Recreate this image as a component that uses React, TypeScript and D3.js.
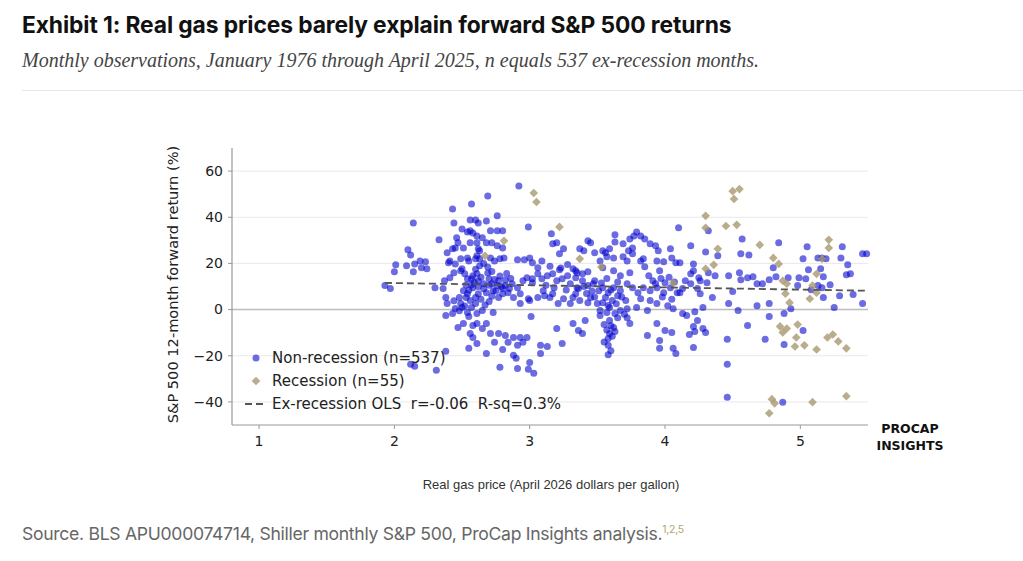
import React, { useEffect } from 'react';
import * as d3 from 'd3';

// [real gas price, 12-month forward return %]
const nonRecession: [number, number][] = [
  [1.93, 10.4], [1.97, 9.1], [2.01, 19.4], [2.0, 16.4], [2.09, 19.0], [2.1, 25.9], [2.12, 23.7], [2.14, 37.5],
  [2.15, 19.8], [2.14, 16.4], [2.19, 21.1], [2.2, 18.1], [2.23, 20.7], [2.24, 17.7], [2.12, -23.7], [2.15, -24.6],
  [2.31, -26.3], [2.3, 9.5], [2.33, 30.2],
  [2.36, 9.1], [2.38, 5.2], [2.39, 2.6], [2.38, -2.6], [2.39, 24.6], [2.43, 26.3], [2.43, 43.6], [2.44, 37.5],
  [2.46, 31.1], [2.47, 28.9], [2.45, 26.7], [2.41, 21.1], [2.45, 19.8], [2.4, 20.3], [2.37, 12.5], [2.41, 13.8],
  [2.44, 16.0], [2.49, 22.0], [2.5, 17.7], [2.49, 16.8], [2.5, 34.9], [2.51, 26.7], [2.54, 33.6], [2.52, 15.5],
  [2.54, 13.4], [2.51, 8.2], [2.54, 6.9], [2.56, 3.9], [2.49, 2.6], [2.5, 0.9], [2.48, 5.2], [2.53, 5.2],
  [2.54, -1.3], [2.43, -1.7], [2.47, -7.8], [2.51, -6.0], [2.55, -3.0], [2.58, -6.9], [2.58, -12.1], [2.56, -10.4],
  [2.55, -16.8], [2.61, -14.7], [2.38, -18.1], [2.57, 45.7], [2.56, 38.8], [2.6, 38.8], [2.62, 37.5], [2.58, 33.2],
  [2.61, 31.9], [2.56, 28.9], [2.54, 22.4], [2.55, 21.1], [2.57, 13.4], [2.58, 9.5], [2.6, 5.2], [2.62, 6.9],
  [2.6, 2.6], [2.61, -6.0], [2.58, 14.7], [2.62, 12.5], [2.61, 23.3], [2.62, 26.3], [2.63, 25.5], [2.63, 22.0],
  [2.63, 19.0], [2.61, 15.5], [2.57, 0.9], [2.61, -1.7], [2.56, 34.1], [2.61, 28.9], [2.6, 22.0],
  [2.65, 31.1], [2.68, 38.4], [2.71, 34.1], [2.76, 40.6], [2.76, 34.1], [2.8, 34.1], [2.68, 28.9], [2.72, 28.9],
  [2.76, 27.6], [2.8, 26.7], [2.69, 49.2], [2.92, 53.5], [2.99, 35.8], [2.71, 22.4], [2.74, 21.1], [2.78, 22.0],
  [2.81, 22.4], [2.66, 11.2], [2.7, 13.4], [2.72, 11.2], [2.76, 10.4], [2.77, 12.5], [2.8, 9.1], [2.82, 10.4],
  [2.85, 9.1], [2.87, 11.2], [2.91, 9.5], [2.95, 12.5], [2.98, 13.8], [3.02, 13.4], [3.06, 15.5], [2.68, 7.3],
  [2.73, 8.2], [2.77, 5.2], [2.8, 6.9], [2.84, 7.3], [2.88, 5.2], [2.93, 6.9], [2.99, 4.7], [2.65, -0.4],
  [2.65, -8.2], [2.68, -6.0], [2.71, -10.4], [2.74, -14.2], [2.77, -10.4], [2.82, -11.2], [2.84, -14.2], [2.88, -12.1],
  [2.91, -15.5], [2.95, -14.2], [2.68, -19.0], [2.8, -17.3], [2.88, -19.8], [3.01, -3.0], [2.73, -1.3], [2.93, 2.6],
  [3.0, 3.9], [2.9, -21.1], [2.78, -25.0], [2.91, -25.5], [2.99, -25.9], [3.0, -22.9], [3.03, -27.6], [3.08, -19.0],
  [3.08, -15.5], [2.91, 21.6], [2.96, 21.6], [3.0, 22.4], [3.02, 20.3], [3.06, 18.1], [3.02, 11.6], [3.06, 5.2],
  [2.93, -12.1], [2.98, -12.1],
  [2.64, 14.0], [2.66, 9.0], [2.69, 15.8], [2.7, 10.5], [2.72, 16.5], [2.74, 13.0], [2.75, 8.0], [2.78, 14.5],
  [2.79, 10.0], [2.82, 12.8], [2.83, 15.6], [2.86, 13.5], [2.64, 4.5], [2.67, 2.0], [2.7, 3.5], [2.72, 5.8],
  [2.62, 10.0], [2.6, 17.5], [2.66, 20.0], [2.69, 18.5], [2.57, 10.8], [2.59, 11.8], [2.55, 8.4], [2.53, 10.6],
  [2.48, -0.5], [2.52, 1.5], [2.45, 0.5], [2.44, 3.8],
  [3.09, 21.1], [3.13, 14.7], [3.17, 15.5], [3.2, 12.5], [3.24, 13.4], [3.28, 14.7], [3.11, 6.0], [3.17, 6.9],
  [3.21, 2.6], [3.25, 4.7], [3.3, 2.6], [3.16, 32.8], [3.17, 28.5], [3.2, 28.9], [3.25, 26.3], [3.22, 24.2],
  [3.22, 17.3], [3.34, 16.8], [3.3, 11.2], [3.34, 6.9], [3.36, 9.1], [3.09, 13.4], [3.1, 8.2], [3.15, 5.2],
  [3.32, 17.7], [3.35, 16.0], [3.39, 15.5], [3.43, 16.4], [3.34, 13.8], [3.37, 26.3], [3.4, 25.5], [3.45, 28.9],
  [3.43, 29.8], [3.48, 24.6], [3.52, 21.1], [3.35, 9.5], [3.39, 12.5], [3.43, 10.4], [3.47, 11.2], [3.51, 8.2],
  [3.32, 5.2], [3.37, 3.9], [3.43, 3.0], [3.45, 5.2], [3.5, 2.6], [3.2, -8.2], [3.24, -14.7], [3.32, -6.0],
  [3.36, -9.1], [3.41, -4.7], [3.39, -10.4], [3.13, -16.0], [3.52, -0.4], [3.52, -2.6],
  [3.12, 10.5], [3.18, 9.5], [3.23, 18.0], [3.27, 8.5], [3.28, 19.5], [3.15, 18.8],
  [3.54, 25.5], [3.62, 22.4], [3.59, 26.3], [3.63, 32.4], [3.63, 29.3], [3.69, 28.5], [3.74, 30.6], [3.77, 31.9],
  [3.79, 33.6], [3.82, 31.9], [3.85, 30.6], [3.89, 28.5], [3.93, 27.6], [3.95, 25.5], [3.94, 21.1], [3.99, 20.7],
  [4.04, 26.3], [4.1, 35.4], [4.08, 20.3], [3.76, 26.7], [3.73, 25.5], [3.76, 24.2], [4.05, 22.4], [3.54, 18.1],
  [3.56, 24.6], [3.57, 22.9], [3.62, 16.8], [3.69, 22.9], [3.85, 18.6], [3.84, 22.0], [3.72, 21.1], [3.82, 21.1],
  [3.54, 9.5], [3.58, 7.3], [3.62, 9.5], [3.67, 8.2], [3.72, 11.2], [3.76, 9.5], [3.8, 7.3], [3.84, 9.5],
  [3.89, 8.2], [3.94, 9.5], [3.99, 7.3], [4.04, 9.5], [4.09, 7.3], [3.57, -1.3], [3.59, 0.9], [3.63, -1.7],
  [3.65, -3.5], [3.67, -0.4], [3.72, 0.4], [3.79, 0.9], [3.87, -0.4], [3.94, 2.6], [4.02, 1.7], [4.06, 0.4],
  [3.59, -4.7], [3.62, -7.8], [3.59, -10.4], [3.58, -12.5], [3.72, -3.5], [3.74, -6.0], [3.87, -11.2], [3.94, -6.0],
  [3.96, -13.4], [4.0, -9.1], [4.05, -9.9], [4.06, -16.8], [4.08, -19.0], [3.96, -16.8],
  [3.48, 12.5], [3.56, 5.2], [3.61, 3.9], [3.65, 6.0], [3.71, 3.9], [3.82, 4.7], [3.89, 3.9], [3.93, 11.2],
  [4.0, 11.6], [3.67, 14.7], [3.74, 16.0], [3.88, 14.7], [3.96, 16.8],
  [3.55, -6.5], [3.57, -8.8], [3.6, -7.0], [3.61, -11.5], [3.63, -9.5], [3.55, -14.0], [3.58, -15.5], [3.54, 3.0],
  [3.58, 1.8], [3.6, 8.5], [3.64, 2.5], [3.68, 5.5], [3.7, -2.0], [3.46, 8.0], [3.48, 5.5], [3.42, 7.0],
  [3.4, 10.0], [3.53, 11.5], [3.57, 13.5], [3.65, 12.0], [3.6, -17.8], [3.58, -19.6],
  [3.91, 12.5], [3.97, 13.5], [4.03, 14.0], [4.07, 12.0], [3.98, 5.5], [4.05, 4.5],
  [4.13, 9.1], [4.19, 11.2], [4.24, 9.1], [4.13, -1.7], [4.19, 27.6], [4.21, 16.8], [4.3, 25.0], [4.32, 34.1],
  [4.39, 23.3], [4.56, 24.2], [4.62, 23.7], [4.57, 30.6], [4.11, 20.3], [4.21, 19.8], [4.19, 15.5], [4.15, 12.5],
  [4.25, 13.8], [4.26, 12.5], [4.31, 11.6], [4.32, 16.0], [4.37, 14.7], [4.47, 14.7], [4.55, 16.0], [4.56, 12.9],
  [4.61, 13.8], [4.65, 14.2], [4.68, 11.2], [4.72, 11.2], [4.77, 12.9], [4.8, 18.1], [4.84, 28.9], [4.82, 14.2],
  [4.11, 7.3], [4.26, 6.9], [4.35, 5.2], [4.5, 7.8], [4.47, 2.6], [4.54, -0.4], [4.68, 1.7], [4.77, 2.6],
  [4.77, -3.0], [4.16, -2.6], [4.22, -0.9], [4.24, -4.7], [4.18, -10.8], [4.21, -7.3], [4.22, -9.5], [4.28, 0.9],
  [4.28, -8.2], [4.3, -9.9], [4.61, -6.9], [4.46, -12.9], [4.46, -23.7], [4.46, -38.0], [4.74, -12.9], [4.21, -16.4],
  [5.05, 27.2], [5.31, 27.2], [5.46, 24.2], [5.49, 24.2], [5.02, 22.0], [5.13, 22.4], [5.16, 22.4], [5.19, 22.0],
  [5.3, 22.4], [5.35, 19.4], [5.34, 15.1], [5.37, 15.5], [5.06, 17.3], [5.15, 17.7], [5.17, 14.2], [4.99, 13.8],
  [5.04, 13.4], [4.91, 13.8], [4.98, 10.4], [5.08, 8.6], [5.13, 10.4], [5.16, 9.5], [5.22, 10.8], [5.29, 6.0],
  [5.39, 6.5], [5.46, 2.6], [5.17, 5.2], [4.93, 0.4], [4.88, -1.7], [5.25, 0.9], [5.02, -9.1], [4.88, -15.1],
  [4.87, -40.1],
];

const recession: [number, number][] = [
  [3.03, 50.5], [3.05, 46.6], [3.22, 35.8], [2.81, 29.8], [2.67, 23.3], [3.37, 22.0], [3.53, 18.5], [4.06, 11.6],
  [4.5, 51.3], [4.55, 52.2], [4.51, 47.9], [4.3, 40.6], [4.3, 35.4], [4.45, 36.2], [4.53, 36.7], [4.7, 28.0],
  [4.39, 26.3], [4.8, 22.4], [4.84, 19.8], [5.21, 30.2], [5.21, 26.7], [4.3, 17.7], [4.36, 19.4], [5.16, 22.0],
  [4.87, 12.5], [4.9, 11.2], [5.12, 15.5], [5.09, 10.4], [5.12, 7.3], [5.07, 4.7], [4.89, 6.9], [4.92, 3.0],
  [4.85, -7.3], [4.9, -8.2], [4.87, -9.9], [4.98, -6.5], [4.97, -12.1], [4.96, -16.0], [5.03, -15.5], [5.12, -17.3],
  [5.2, -12.1], [5.24, -10.8], [5.28, -13.8], [5.34, -16.8], [4.79, -38.8], [4.81, -40.6], [4.77, -44.9], [5.09, -40.1],
  [5.34, -37.5],
];

const xTicks = [1, 2, 3, 4, 5];
const yTicks = [-40, -20, 0, 20, 40, 60];
const olsIntercept = 13.4;
const olsSlope = -0.95;
const olsRange = [1.93, 5.5];
const legendLabels = ['Non-recession (n=537)', 'Recession (n=55)', 'Ex-recession OLS  r=-0.06  R-sq=0.3%'];

const W = 1023;
const H = 561;
const plot = { left: 232, right: 868, top: 148, bottom: 425 };
const tickFont = 'DejaVu Sans, sans-serif';
const blue = '#0000cd';
const tan = '#a89870';

// keep double spaces visible in svg text
const keepSpaces = (s: string) => s.replace(/  /g, ' \u00a0');

export default function App() {
  useEffect(() => {
    document.body.style.margin = '0';
  }, []);

  const x = d3.scaleLinear().domain([0.8, 5.5]).range([plot.left, plot.right]);
  const y = d3.scaleLinear().domain([-50, 70]).range([plot.bottom, plot.top]);
  const diamond = d3.symbol().type(d3.symbolDiamond2).size(48)() as string;
  const line = d3.line<number>().x((g) => x(g)).y((g) => y(olsIntercept + olsSlope * g));

  return (
    <svg width={W} height={H} style={{ display: 'block', background: '#fff' }}>
      <text x={22} y={33} fontFamily="Inter, sans-serif" fontWeight={700} fontSize={22.8} letterSpacing={-0.1} fill="#111">
        Exhibit 1: Real gas prices barely explain forward S&amp;P 500 returns
      </text>
      <text x={22} y={67} fontFamily="Liberation Serif, serif" fontStyle="italic" fontSize={20} fill="#444">
        Monthly observations, January 1976 through April 2025, n equals 537 ex-recession months.
      </text>
      <line x1={22} x2={W} y1={90.5} y2={90.5} stroke="#e6e6e6" strokeWidth={1.2} />

      {/* grid */}
      {yTicks.filter((t) => t !== 0).map((t) => (
        <line key={t} x1={plot.left} x2={plot.right} y1={y(t)} y2={y(t)} stroke="#e9e9ec" strokeWidth={1} />
      ))}
      <line x1={plot.left} x2={plot.right} y1={y(0)} y2={y(0)} stroke="#bdbdbd" strokeWidth={1.5} />

      {/* points */}
      <g>
        {nonRecession.map((d, i) => (
          <circle key={i} cx={x(d[0])} cy={y(d[1])} r={3.5} fill={blue} fillOpacity={0.58} />
        ))}
      </g>
      <g>
        {recession.map((d, i) => (
          <path key={i} d={diamond} transform={`translate(${x(d[0])},${y(d[1])})`} fill={tan} fillOpacity={0.8} />
        ))}
      </g>
      <path d={line(olsRange) as string} fill="none" stroke="#555" strokeWidth={1.8} strokeDasharray="7,4" />

      {/* axes */}
      <line x1={plot.left} x2={plot.left} y1={plot.top} y2={plot.bottom} stroke="#999" strokeWidth={1.2} />
      <line x1={plot.left} x2={plot.right} y1={plot.bottom} y2={plot.bottom} stroke="#999" strokeWidth={1.2} />
      {yTicks.map((t) => (
        <g key={t} transform={`translate(${plot.left},${y(t)})`}>
          <line x1={-4} x2={0} stroke="#999" />
          <text x={-9} dy="0.35em" textAnchor="end" fontFamily={tickFont} fontSize={14} fill="#222">
            {t < 0 ? `\u2212${Math.abs(t)}` : t}
          </text>
        </g>
      ))}
      {xTicks.map((t) => (
        <g key={t} transform={`translate(${x(t)},${plot.bottom})`}>
          <line y1={0} y2={4} stroke="#999" />
          <text y={21} textAnchor="middle" fontFamily={tickFont} fontSize={14} fill="#222">{t}</text>
        </g>
      ))}
      <text transform={`translate(178,${(plot.top + plot.bottom) / 2 - 2}) rotate(-90)`} textAnchor="middle"
        fontFamily={tickFont} fontSize={14.6} fill="#222">
        S&amp;P 500 12-month forward return (%)
      </text>
      <text x={551} y={489} textAnchor="middle" fontFamily="Liberation Sans, Arial, sans-serif" fontSize={13} fill="#333">
        Real gas price (April 2026 dollars per gallon)
      </text>

      {/* legend */}
      <g fontFamily={tickFont} fontSize={15} fill="#222">
        <circle cx={256} cy={358} r={3.5} fill={blue} fillOpacity={0.58} />
        <text x={272} y={358} dy="0.35em">{legendLabels[0]}</text>
        <path d={diamond} transform="translate(256,381)" fill={tan} fillOpacity={0.8} />
        <text x={272} y={381} dy="0.35em">{legendLabels[1]}</text>
        <line x1={245} x2={266} y1={404} y2={404} stroke="#555" strokeWidth={1.8} strokeDasharray="7,4" />
        <text x={272} y={404} dy="0.35em">{keepSpaces(legendLabels[2])}</text>
      </g>

      <g fontFamily={tickFont} fontWeight={700} fontSize={12.5} fill="#111" textAnchor="middle">
        <text x={910} y={433}>PROCAP</text>
        <text x={910} y={450}>INSIGHTS</text>
      </g>

      <text x={22} y={540} fontFamily="Inter, sans-serif" fontSize={17.6} fill="#666" letterSpacing={-0.3}>
        Source. BLS APU000074714, Shiller monthly S&amp;P 500, ProCap Insights analysis.
        <tspan dy={-7} fontSize={10.5} fill="#b3a572">1,2,5</tspan>
      </text>
    </svg>
  );
}
